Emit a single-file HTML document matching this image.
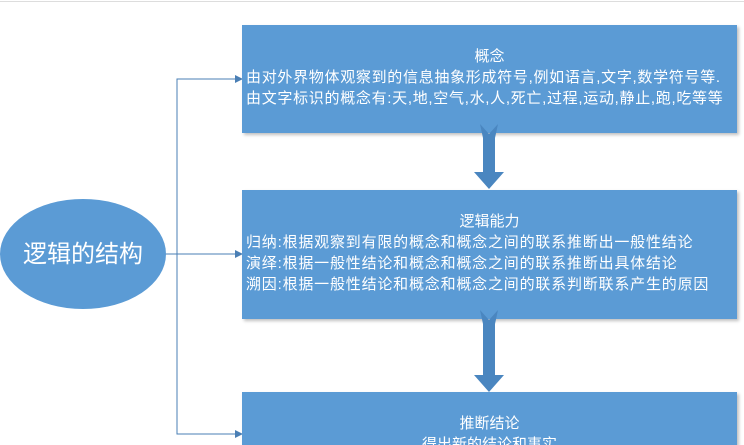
<!DOCTYPE html>
<html><head><meta charset="utf-8"><style>
html,body{margin:0;width:744px;height:445px;overflow:hidden;background:#fff;font-family:"Liberation Sans","Noto Sans CJK SC","WenQuanYi Zen Hei",sans-serif;}
.box{position:absolute;left:242px;width:495px;background:#5b9bd5;color:#fff;font-size:15px;line-height:21px;box-shadow:2px 2px 3px rgba(0,0,0,0.25);overflow:hidden}
.t{text-align:center}
.l{padding-left:4px;white-space:nowrap;letter-spacing:0.7px}
</style></head><body>
<div style="position:absolute;left:0;top:1px;width:744px;height:1px;background:#ddd"></div>
<svg width="744" height="445" style="position:absolute;left:0;top:0">
<defs><marker id="a" markerWidth="8" markerHeight="8" refX="7" refY="4" orient="auto" markerUnits="userSpaceOnUse"><path d="M0,0 L8,4 L0,8 Z" fill="#4a7fb5"/></marker></defs>
<ellipse cx="83" cy="254" rx="83" ry="55" fill="#5b9bd5"/>
<text x="83" y="262" fill="#fff" font-size="24" text-anchor="middle" font-family="Liberation Sans, Noto Sans CJK SC, sans-serif">逻辑的结构</text>
<path d="M166,254 H242" stroke="#4a7fb5" stroke-width="1" fill="none" marker-end="url(#a)"/>
<path d="M177,254 V79 H242" stroke="#4a7fb5" stroke-width="1" fill="none" marker-end="url(#a)"/>
<path d="M177,254 V434 H242" stroke="#4a7fb5" stroke-width="1" fill="none" marker-end="url(#a)"/>
</svg>
<div class="box" style="top:25px;height:108px">
<div class="t" style="margin-top:21px">概念</div>
<div class="l">由对外界物体观察到的信息抽象形成符号,例如语言,文字,数学符号等.</div>
<div class="l">由文字标识的概念有:天,地,空气,水,人,死亡,过程,运动,静止,跑,吃等等</div>
</div>
<div class="box" style="top:190px;height:129px">
<div class="t" style="margin-top:21px">逻辑能力</div>
<div class="l" style="letter-spacing:0.8px">归纳:根据观察到有限的概念和概念之间的联系推断出一般性结论</div>
<div class="l" style="letter-spacing:0.8px">演绎:根据一般性结论和概念和概念之间的联系推断出具体结论</div>
<div class="l" style="letter-spacing:0.8px">溯因:根据一般性结论和概念和概念之间的联系判断联系产生的原因</div>
</div>
<div class="box" style="top:392px;height:53px">
<div class="t" style="margin-top:21px">推断结论</div>
<div class="t">得出新的结论和事实</div>
</div>
<svg width="744" height="445" style="position:absolute;left:0;top:0">
<path d="M480,124 L489,134 L498,124 L495,138 L495,172 L504,172 L489,189 L474,172 L483,172 L483,138 Z" fill="#4a86c0"/>
<path d="M480,310 L489,320 L498,310 L495,324 L495,375 L504,375 L489,392 L474,375 L483,375 L483,324 Z" fill="#4a86c0"/>
</svg>
</body></html>
